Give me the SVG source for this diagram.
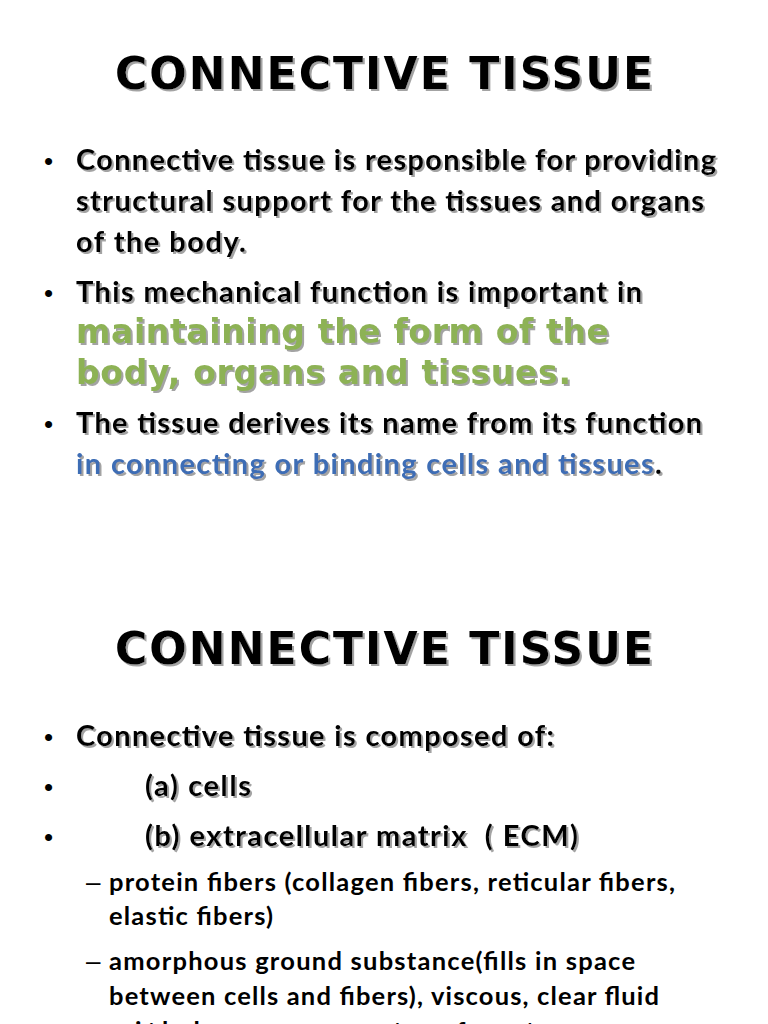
<svg xmlns="http://www.w3.org/2000/svg" width="768" height="1024" viewBox="0 0 768 1024">
<defs>
<filter id="sh" x="-5%" y="-20%" width="110%" height="150%"><feDropShadow dx="2" dy="2" stdDeviation="0.6" flood-color="#999" flood-opacity="0.9"/></filter>
</defs>
<style>
.t{font-family:"DejaVu Sans",sans-serif;font-weight:bold;font-size:44px;fill:#000;filter:url(#sh)}
.b{font-family:Lato,"Liberation Sans",sans-serif;font-weight:bold;font-size:29px;fill:#000;filter:url(#sh)}
.s{font-family:Lato,"Liberation Sans",sans-serif;font-weight:bold;font-size:25.5px;fill:#000}
.g{font-family:"DejaVu Sans",sans-serif;font-weight:bold;font-size:33px;fill:#8db255;filter:url(#sh)}
.bl{fill:#3d6db5}
.d{font-family:"Liberation Sans",sans-serif;font-size:26px;fill:#000}
</style>
<rect width="768" height="1024" fill="#fff"/>
<g id="slide1">
<text class="t" x="115" y="89" textLength="538">CONNECTIVE TISSUE</text>
<text class="d" x="44" y="170">•</text>
<text class="b" x="76" y="170" textLength="640">Connective tissue is responsible for providing</text>
<text class="b" x="76" y="211" textLength="628">structural support for the tissues and organs</text>
<text class="b" x="76" y="252" textLength="170">of the body.</text>
<text class="d" x="44" y="302">•</text>
<text class="b" x="76" y="302" textLength="566">This mechanical function is important in</text>
<text class="g" x="76" y="343" textLength="533">maintaining the form of the</text>
<text class="g" x="76" y="384" textLength="495">body, organs and tissues.</text>
<text class="d" x="44" y="433">•</text>
<text class="b" x="76" y="433" textLength="626">The tissue derives its name from its function</text>
<text class="b" x="76" y="474" textLength="586"><tspan class="bl">in connecting or binding cells and tissues</tspan>.</text>
</g>
<g id="slide2">
<text class="t" x="115" y="664" textLength="538">CONNECTIVE TISSUE</text>
<text class="d" x="44" y="746">•</text>
<text class="b" x="76" y="746" textLength="478">Connective tissue is composed of:</text>
<text class="d" x="44" y="796">•</text>
<text class="b" x="145" y="796" textLength="106">(a) cells</text>
<text class="d" x="44" y="846">•</text>
<text class="b" x="145" y="846" xml:space="preserve" textLength="433">(b) extracellular matrix  ( ECM)</text>
<text class="d" x="86" y="891">–</text>
<text class="s" x="109" y="891" textLength="566">protein fibers (collagen fibers, reticular fibers,</text>
<text class="s" x="109" y="925" textLength="164">elastic fibers)</text>
<text class="d" x="86" y="970">–</text>
<text class="s" x="109" y="970" textLength="526">amorphous ground substance(fills in space</text>
<text class="s" x="109" y="1005" textLength="550">between cells and fibers), viscous, clear fluid</text>
<text class="s" x="109" y="1040" textLength="460">with large amounts of water</text>
</g>
</svg>
